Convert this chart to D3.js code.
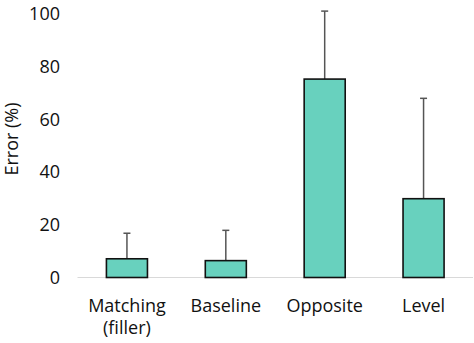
<!DOCTYPE html>
<html><head><meta charset="utf-8">
<script src="https://cdn.jsdelivr.net/npm/d3@7"></script>
<style>body{margin:0;background:#fff}svg{display:block}</style>
</head><body><svg id="c" width="474" height="343"></svg>
<script>
const categories = [["Matching","(filler)"],["Baseline"],["Opposite"],["Level"]];
const values = [7.1, 6.4, 75.3, 29.9];
const errorTops = [16.8, 17.9, 101.1, 68.0];
const yTicks = [0, 20, 40, 60, 80, 100];
const yLabel = "Error (%)";

const svg = d3.select("#c");
const font = "'Open Sans', sans-serif";
const fs = 18;
const x = d3.scaleBand().domain(d3.range(categories.length)).range([77.5, 473]).paddingInner(0.585).paddingOuter(0.2925);
const y = d3.scaleLinear().domain([0, 100]).range([277.5, 14]);

svg.append("line").attr("x1", 77.5).attr("x2", 473).attr("y1", y(0)).attr("y2", y(0))
  .attr("stroke", "#d9d9d9").attr("stroke-width", 1);

svg.selectAll(".yt").data(yTicks).enter().append("text")
  .attr("x", 60).attr("y", d => y(d)).attr("dy", "0.35em")
  .attr("text-anchor", "end").attr("font-family", font).attr("font-size", fs).attr("fill", "#111")
  .text(d => d);

svg.append("text").attr("transform", `translate(18,${139}) rotate(-90)`)
  .attr("text-anchor", "middle").attr("font-family", font).attr("font-size", fs).attr("fill", "#111")
  .text(yLabel);

const eg = svg.selectAll(".err").data(values).enter().append("g");
eg.append("line").attr("x1", (d,i) => x(i) + x.bandwidth()/2).attr("x2", (d,i) => x(i) + x.bandwidth()/2)
  .attr("y1", d => y(d)).attr("y2", (d,i) => y(errorTops[i])).attr("stroke", "#555").attr("stroke-width", 1.5);
eg.append("line").attr("x1", (d,i) => x(i) + x.bandwidth()/2 - 3.5).attr("x2", (d,i) => x(i) + x.bandwidth()/2 + 3.5)
  .attr("y1", (d,i) => y(errorTops[i])).attr("y2", (d,i) => y(errorTops[i])).attr("stroke", "#555").attr("stroke-width", 1.5);

svg.selectAll(".bar").data(values).enter().append("rect")
  .attr("x", (d,i) => x(i)).attr("width", x.bandwidth())
  .attr("y", d => y(d)).attr("height", d => y(0) - y(d))
  .attr("fill", "#68D1BE").attr("stroke", "#111").attr("stroke-width", 1.6);

categories.forEach((lines, i) => {
  const t = svg.append("text").attr("x", x(i) + x.bandwidth()/2).attr("y", 312)
    .attr("text-anchor", "middle").attr("font-family", font).attr("font-size", fs).attr("fill", "#111");
  lines.forEach((l, j) => t.append("tspan").attr("x", x(i) + x.bandwidth()/2).attr("dy", j ? 22 : 0).text(l));
});
</script></body></html>
